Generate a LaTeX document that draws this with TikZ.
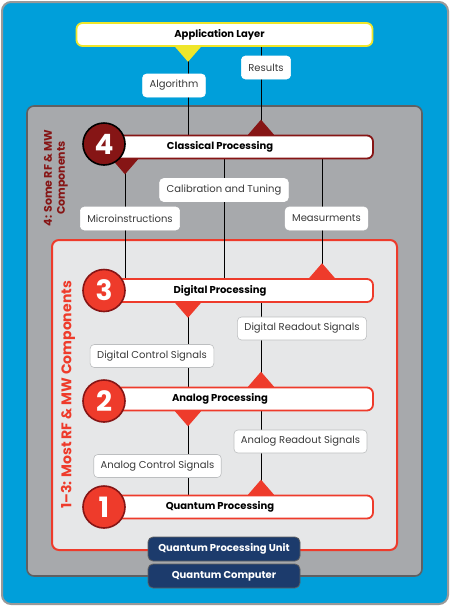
\documentclass[tikz,border=0pt]{standalone}
\usepackage{fontspec}
\setmainfont{Poppins}
\usetikzlibrary{shapes.geometric}

\definecolor{qblue}{HTML}{009FDA}
\definecolor{panelgray}{HTML}{A7A9AC}
\definecolor{paneledge}{HTML}{5F6062}
\definecolor{lightpanel}{HTML}{E6E7E8}
\definecolor{procred}{HTML}{EE3B2B}
\definecolor{darkred}{HTML}{861515}
\definecolor{appyellow}{HTML}{EFE62A}
\definecolor{navy}{HTML}{1C3B6C}
\definecolor{tagtext}{HTML}{3A3A3A}
\definecolor{tagedge}{HTML}{BCBEC0}

\pgfdeclarelayer{panels}
\pgfdeclarelayer{wires}
\pgfsetlayers{panels,wires,main}

\begin{document}
\begin{tikzpicture}[
    x=1pt, y=-1pt,
    every node/.style={font=\fontsize{10}{12}\selectfont},
    appbox/.style={draw=appyellow, fill=white, line width=1.8pt, rounded corners=6pt, minimum width=296pt, minimum height=23pt, font=\fontsize{10}{12}\selectfont\bfseries, execute at begin node={\hspace*{-10pt}}},
    procbox/.style={draw=#1, fill=white, line width=1.8pt, rounded corners=6pt, minimum width=283pt, minimum height=23pt, font=\fontsize{10}{12}\selectfont\bfseries, execute at begin node={\hspace*{-23pt}}},
    numcirc/.style={circle, draw=#1, line width=1.6pt, minimum size=42pt, inner sep=0pt, text=white, font=\fontsize{28}{28}\selectfont\bfseries},
    tag/.style={fill=white, draw=#1, line width=0.6pt, rounded corners=4pt, minimum height=23pt, inner xsep=7pt, text=tagtext},
    navytag/.style={fill=navy, draw=paneledge, line width=0.8pt, rounded corners=5pt, minimum width=152pt, minimum height=24pt, text=white, font=\fontsize{10}{12}\selectfont\bfseries},
    marker/.style={diamond, fill=#1, inner sep=0pt, minimum width=26pt, minimum height=30pt},
    wire/.style={line width=1pt, black}
  ]
    \useasboundingbox (0,0) rectangle (450,606);

    % Nested panels
    \begin{pgfonlayer}{panels}
      \draw[fill=qblue, draw=gray!80, line width=2pt, rounded corners=9pt] (2,2) rectangle (448,604);
      \draw[fill=panelgray, draw=paneledge, line width=1.6pt, rounded corners=7pt] (27,106) rectangle (422,576);
      \draw[fill=lightpanel, draw=procred, line width=2pt, rounded corners=7pt] (52,240) rectangle (397,550);
    \end{pgfonlayer}

    % Column positions of the signal lines
    \coordinate (colA) at (188,0);
    \coordinate (colB) at (261,0);
    \coordinate (colC) at (125,0);
    \coordinate (colD) at (224,0);
    \coordinate (colE) at (322,0);

    % Processing layers
    \node[appbox] (app) at (224.5,34.5) {Application Layer};
    \node[procbox=darkred] (classical) at (231.5,147) {Classical Processing};
    \node[procbox=procred] (digital) at (231.5,290.5) {Digital Processing};
    \node[procbox=procred] (analog) at (231.5,399) {Analog Processing};
    \node[procbox=procred] (quantum) at (231.5,507) {Quantum Processing};

    % Numbered circles
    \node[numcirc=black, fill=darkred] (n4) at (104,144) {4};
    \node[numcirc=darkred, fill=procred] (n3) at (104,290.5) {3};
    \node[numcirc=darkred, fill=procred] (n2) at (104,401) {2};
    \node[numcirc=darkred, fill=procred] (n1) at (104,507) {1};

    % Side captions
    \node[rotate=90, align=center, text=darkred, font=\fontsize{11}{13}\selectfont\bfseries] (somerf) at (56,178) {4: Some RF \& MW\\Components};
    \node[rotate=90, text=procred, font=\fontsize{14}{16}\selectfont\bfseries] (mostrf) at (68,395) {1--3: Most RF \& MW Components};

    % Signal lines and direction markers
    \begin{pgfonlayer}{wires}
      \draw[wire] (app.south -| colA) -- (classical.north -| colA);
      \draw[wire] (classical.north -| colB) -- (app.south -| colB);
      \draw[wire] (classical.south -| colC) -- (digital.north -| colC);
      \draw[wire] (classical.south -| colD) -- (digital.north -| colD);
      \draw[wire] (digital.north -| colE) -- (classical.south -| colE);
      \draw[wire] (digital.south -| colA) -- (analog.north -| colA);
      \draw[wire] (analog.north -| colB) -- (digital.south -| colB);
      \draw[wire] (analog.south -| colA) -- (quantum.north -| colA);
      \draw[wire] (quantum.north -| colB) -- (analog.south -| colB);

      \node[marker=appyellow] (m1) at (app.south -| colA) {};
      \node[marker=darkred] (m2) at (classical.north -| colB) {};
      \node[marker=darkred] (m3) at (classical.south -| colC) {};
      \node[marker=procred] (m4) at (digital.north -| colE) {};
      \node[marker=procred] (m5) at (digital.south -| colA) {};
      \node[marker=procred] (m6) at (analog.north -| colB) {};
      \node[marker=procred] (m7) at (analog.south -| colA) {};
      \node[marker=procred] (m8) at (quantum.north -| colB) {};
    \end{pgfonlayer}

    % Signal labels
    \node[tag=white] (algo) at (174,85.5) {Algorithm};
    \node[tag=white] (results) at (266,67.5) {Results};
    \node[tag=white] (calib) at (224,190) {Calibration and Tuning};
    \node[tag=white] (micro) at (130,218.5) {Microinstructions};
    \node[tag=white] (meas) at (326.5,218.5) {Measurments};
    \node[tag=tagedge] (dread) at (302,328.5) {Digital Readout Signals};
    \node[tag=tagedge] (dctrl) at (152,356) {Digital Control Signals};
    \node[tag=tagedge] (aread) at (300.5,441.5) {Analog Readout Signals};
    \node[tag=tagedge] (actrl) at (157.5,466) {Analog Control Signals};

    % Unit captions
    \node[navytag] (qpu) at (224,549) {Quantum Processing Unit};
    \node[navytag] (qc) at (224,576) {Quantum Computer};

  \end{tikzpicture}
\end{document}
